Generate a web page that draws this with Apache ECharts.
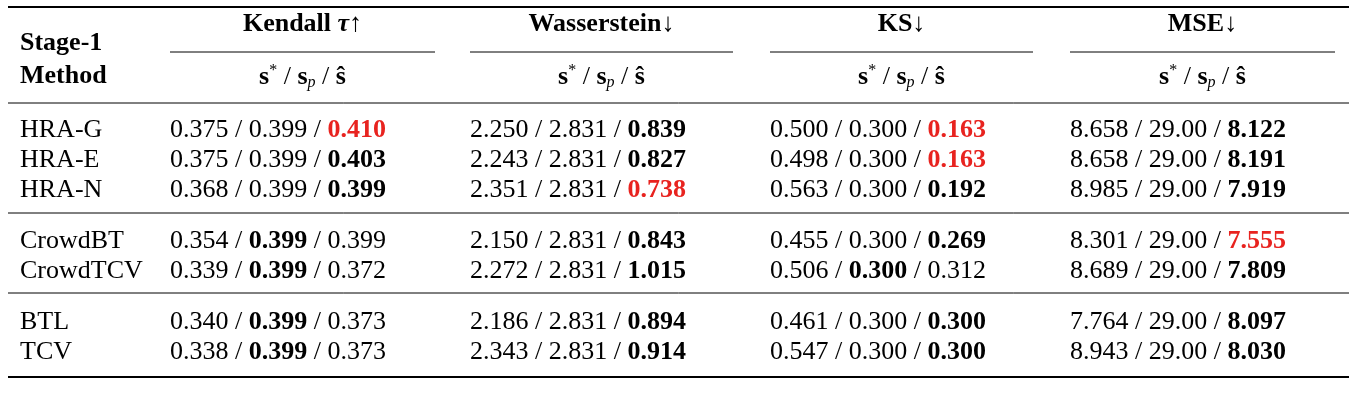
<!DOCTYPE html>
<html><head><meta charset="utf-8">
<script src="https://cdn.jsdelivr.net/npm/echarts@6/dist/echarts.min.js"></script>
<style>html,body{margin:0;background:#fff}#box{width:1357px;height:405px}</style>
</head><body><div id="box"></div>
<script>
var methods = ['HRA-G', 'HRA-E', 'HRA-N', 'CrowdBT', 'CrowdTCV', 'BTL', 'TCV'];
var metrics = ['{b|Kendall }{bi|τ}{b|↑}', '{b|Wasserstein↓}', '{b|KS↓}', '{b|MSE↓}'];
var kendall = [['0.375','0.399','0.410'],['0.375','0.399','0.403'],['0.368','0.399','0.399'],['0.354','0.399','0.399'],['0.339','0.399','0.372'],['0.340','0.399','0.373'],['0.338','0.399','0.373']];
var wasser = [['2.250','2.831','0.839'],['2.243','2.831','0.827'],['2.351','2.831','0.738'],['2.150','2.831','0.843'],['2.272','2.831','1.015'],['2.186','2.831','0.894'],['2.343','2.831','0.914']];
var ks = [['0.500','0.300','0.163'],['0.498','0.300','0.163'],['0.563','0.300','0.192'],['0.455','0.300','0.269'],['0.506','0.300','0.312'],['0.461','0.300','0.300'],['0.547','0.300','0.300']];
var mse = [['8.658','29.00','8.122'],['8.658','29.00','8.191'],['8.985','29.00','7.919'],['8.301','29.00','7.555'],['8.689','29.00','7.809'],['7.764','29.00','8.097'],['8.943','29.00','8.030']];
// 0 plain, 1 bold, 2 bold red
var kendallMark = [[0,0,2],[0,0,1],[0,0,1],[0,1,0],[0,1,0],[0,1,0],[0,1,0]];
var wasserMark = [[0,0,1],[0,0,1],[0,0,2],[0,0,1],[0,0,1],[0,0,1],[0,0,1]];
var ksMark = [[0,0,2],[0,0,2],[0,0,1],[0,0,1],[0,1,0],[0,0,1],[0,0,1]];
var mseMark = [[0,0,1],[0,0,1],[0,0,1],[0,0,2],[0,0,1],[0,0,1],[0,0,1]];

var font = '"Liberation Serif", "DejaVu Serif", serif';
var fs = 26;
var rowY = [130, 160, 190, 241, 271, 322, 352];
var colX = [170, 470, 770, 1070];
var colEnd = [435, 733, 1033, 1335];
var tags = ['n', 'b', 'r'];
var rich = {
  n: {fontFamily: font, fontSize: fs, fill: '#000'},
  b: {fontFamily: font, fontSize: fs, fill: '#000', fontWeight: 'bold'},
  bi: {fontFamily: font, fontSize: fs, fill: '#000', fontWeight: 'bold', fontStyle: 'italic'},
  r: {fontFamily: font, fontSize: fs, fill: '#e8231f', fontWeight: 'bold'},
  sup: {fontFamily: font, fontSize: 16, fill: '#000', padding: [0, 0, 12, 0]},
  sub: {fontFamily: font, fontSize: 16, fill: '#000', fontStyle: 'italic', padding: [12, 0, 0, 0]}
};

var g = [];
function line(x1, y1, x2, y2, w) {
  g.push({type: 'line', shape: {x1: x1, y1: y1, x2: x2, y2: y2}, style: {stroke: '#000', lineWidth: w}});
}
function text(x, y, t, align) {
  g.push({type: 'text', x: x, y: y, style: {text: t, rich: rich, font: fs + 'px ' + font, textAlign: align || 'left', textVerticalAlign: 'middle'}});
}
line(8, 7, 1349, 7, 2);
line(8, 103, 1349, 103, 1);
line(8, 213, 1349, 213, 1);
line(8, 293, 1349, 293, 1);
line(8, 377, 1349, 377, 2);
text(20, 43, '{b|Stage-1}');
text(20, 76, '{b|Method}');
for (var c = 0; c < 4; c++) {
  var mid = (colX[c] + colEnd[c]) / 2;
  text(mid, 24, metrics[c], 'center');
  line(colX[c], 52, colEnd[c], 52, 1);
  text(mid, 77, '{b|s}{sup|*}{n| / }{b|s}{sub|p}{n| / }{b|ŝ}', 'center');
}
var tables = [[kendall, kendallMark], [wasser, wasserMark], [ks, ksMark], [mse, mseMark]];
for (var i = 0; i < methods.length; i++) {
  text(20, rowY[i], '{n|' + methods[i] + '}');
  for (var c = 0; c < 4; c++) {
    var v = tables[c][0][i], m = tables[c][1][i];
    var parts = v.map(function (s, k) { return '{' + tags[m[k]] + '|' + s + '}'; });
    text(colX[c], rowY[i], parts.join('{n| / }'));
  }
}
var chart = echarts.init(document.getElementById('box'));
chart.setOption({graphic: g});
</script></body></html>
